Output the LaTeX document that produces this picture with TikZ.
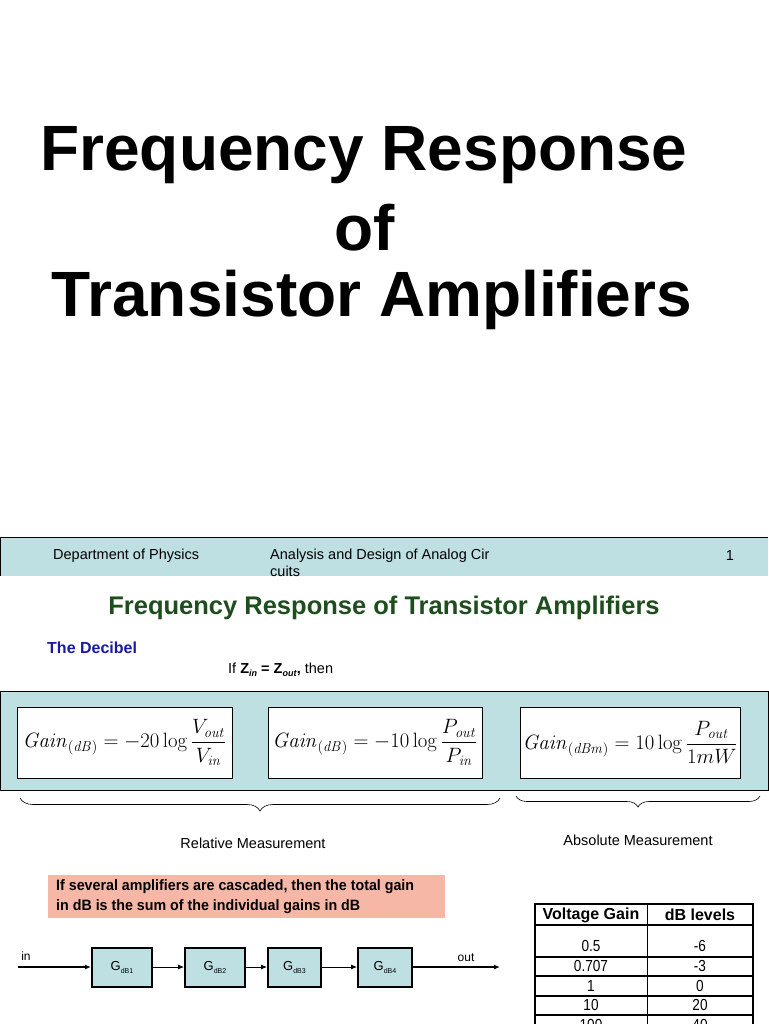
\documentclass[tikz,border=0pt]{standalone}
\usepackage{amsmath}
\usepackage[no-math]{fontspec}
\setmainfont{Liberation Sans}
\newfontfamily\tms{Liberation Serif}
\usetikzlibrary{arrows.meta,decorations.pathreplacing}
\definecolor{band}{HTML}{BEE0E2}
\definecolor{dgreen}{HTML}{1E4D1E}
\definecolor{dblue}{HTML}{1A1AA0}
\definecolor{salmon}{HTML}{F7B7A6}
\tikzset{
 fbox/.style={draw,line width=0.8pt,fill=white,minimum height=71pt,inner sep=2pt},
 gbox/.style={draw,line width=2pt,fill=band,minimum height=39pt},
 txt/.style={inner sep=0pt,font=\fontsize{14.5}{16}\selectfont},
 cell/.style={inner sep=0pt,font=\fontsize{16}{17}\selectfont\addfontfeatures{FakeStretch=0.85}},
 arr/.style={-{Latex[length=6pt,width=5pt]}},
}
\begin{document}
\begin{tikzpicture}[x=1pt,y=-1pt]
\useasboundingbox (0,0) rectangle (768,1024);
\fill[white] (0,0) rectangle (768,1024);
% main title
\node (t1) at (364,155) {\fontsize{64}{70}\selectfont\bfseries Frequency Response};
\node (t2) at (365,228) {\fontsize{64}{70}\selectfont\bfseries of};
\node (t3) at (372,300) {\fontsize{64}{70}\selectfont\bfseries Transistor Amplifiers};
% footer band
\fill[band] (0,537) rectangle (768,576);
\draw[line width=1pt] (0,537) -- (768,537);
\draw[line width=0.8pt] (0.5,537) -- (0.5,576);
\node[txt,anchor=west] (dep) at (53,556) {Department of Physics};
\node[txt,anchor=west] (ana) at (270,556) {Analysis and Design of Analog Cir};
\node[txt,anchor=west] (cui) at (270,571) {cuits};
\node[txt] (pg) at (730,556) {1};
% second title
\node (t4) at (384,608) {\color{dgreen}\fontsize{25.5}{28}\selectfont\bfseries Frequency Response of Transistor Amplifiers};
\node[anchor=west,inner sep=0pt] (dec) at (47,648) {\color{dblue}\fontsize{16}{18}\selectfont\bfseries The Decibel};
\node[txt,anchor=west] (ifz) at (228,670) {If \textbf{Z}\raisebox{-3pt}{\fontsize{9}{10}\selectfont\textbf{\textit{in}}} \textbf{= Z}\raisebox{-3pt}{\fontsize{9}{10}\selectfont\textbf{\textit{out}}}\textbf{,} then};
% formula band
\draw[fill=band,line width=1pt] (0,691) rectangle (768,790);
\node[fbox,minimum width=215pt] (f1) at (124.5,742.5) {\fontsize{21.5}{24}\selectfont $\mathit{Gain}_{(\mathit{dB})}=-20\log\dfrac{V_{\mathit{out}}}{V_{\mathit{in}}}$};
\node[fbox,minimum width=214pt] (f2) at (375,742.5) {\fontsize{21.5}{24}\selectfont $\mathit{Gain}_{(\mathit{dB})}=-10\log\dfrac{P_{\mathit{out}}}{P_{\mathit{in}}}$};
\node[fbox,minimum width=220pt] (f3) at (630,742.5) {\fontsize{21.5}{24}\selectfont $\mathit{Gain}_{(\mathit{dBm})}=10\log\dfrac{P_{\mathit{out}}}{1mW}$};
% braces
\coordinate (b1a) at (500,798); \coordinate (b1b) at (20,798);
\coordinate (b2a) at (760,796); \coordinate (b2b) at (516,796);
\draw[decorate,decoration={brace,amplitude=13pt},line width=0.6pt] (b1a) -- (b1b);
\draw[decorate,decoration={brace,amplitude=11pt},line width=0.6pt] (b2a) -- (b2b);
\node[txt] (rel) at (253,843) {Relative Measurement};
\node[txt] (abs) at (638,840) {Absolute Measurement};
% salmon note
\node[fill=salmon,minimum width=397pt,minimum height=43pt,anchor=north west,inner sep=0pt] (note) at (48,875) {};
\node[anchor=west,align=left,inner sep=0pt,font=\fontsize{15}{20}\selectfont\bfseries\addfontfeatures{FakeStretch=0.95}] (notet) at (56,896.5) {If several amplifiers are cascaded, then the total gain\\in dB is the sum of the individual gains in dB};
% cascade
\node[gbox,minimum width=60pt] (g1) at (122,967) {\fontsize{13}{14}\selectfont G\raisebox{-3pt}{\fontsize{7}{8}\selectfont dB1}};
\node[gbox,minimum width=60pt] (g2) at (215,967) {\fontsize{13}{14}\selectfont G\raisebox{-3pt}{\fontsize{7}{8}\selectfont dB2}};
\node[gbox,minimum width=53pt] (g3) at (294.5,967) {\fontsize{13}{14}\selectfont G\raisebox{-3pt}{\fontsize{7}{8}\selectfont dB3}};
\node[gbox,minimum width=54pt] (g4) at (385,967) {\fontsize{13}{14}\selectfont G\raisebox{-3pt}{\fontsize{7}{8}\selectfont dB4}};
\coordinate (cin) at (18,967); \coordinate (cout) at (500,967);
\draw[arr,line width=1.6pt] (cin) -- (g1);
\draw[arr,line width=0.8pt] (g1) -- (g2);
\draw[arr,line width=0.8pt] (g2) -- (g3);
\draw[arr,line width=0.8pt] (g3) -- (g4);
\draw[arr,line width=1.6pt] (g4) -- (cout);
\node[txt,font=\fontsize{12}{13}\selectfont] (lin) at (26,956) {in};
\node[txt,font=\fontsize{12}{13}\selectfont] (lout) at (466,958) {out};
% table
\draw[line width=2pt] (535,1030) -- (535,904) -- (753,904) -- (753,1030);
\draw[line width=2pt] (535,925) -- (753,925);
\draw[line width=1pt] (647,904) -- (647,1030);
\foreach \yy in {957,976,996,1015} \draw[line width=1.4pt] (535,\yy) -- (753,\yy);
\node[cell,font=\fontsize{16}{17}\selectfont\bfseries] (h1) at (591,915) {Voltage Gain};
\node[cell,font=\fontsize{16}{17}\selectfont\bfseries] (h2) at (700,915) {dB levels};
\node[cell] (a1) at (591,946) {0.5}; \node[cell] (b1) at (700,946) {-6};
\node[cell] (a2) at (591,966) {0.707}; \node[cell] (b2) at (700,966) {-3};
\node[cell] (a3) at (591,986) {1}; \node[cell] (b3) at (700,986) {0};
\node[cell] (a4) at (591,1005) {10}; \node[cell] (b4) at (700,1005) {20};
\node[cell] (a5) at (591,1025) {100}; \node[cell] (b5) at (700,1025) {40};
\end{tikzpicture}
\end{document}
